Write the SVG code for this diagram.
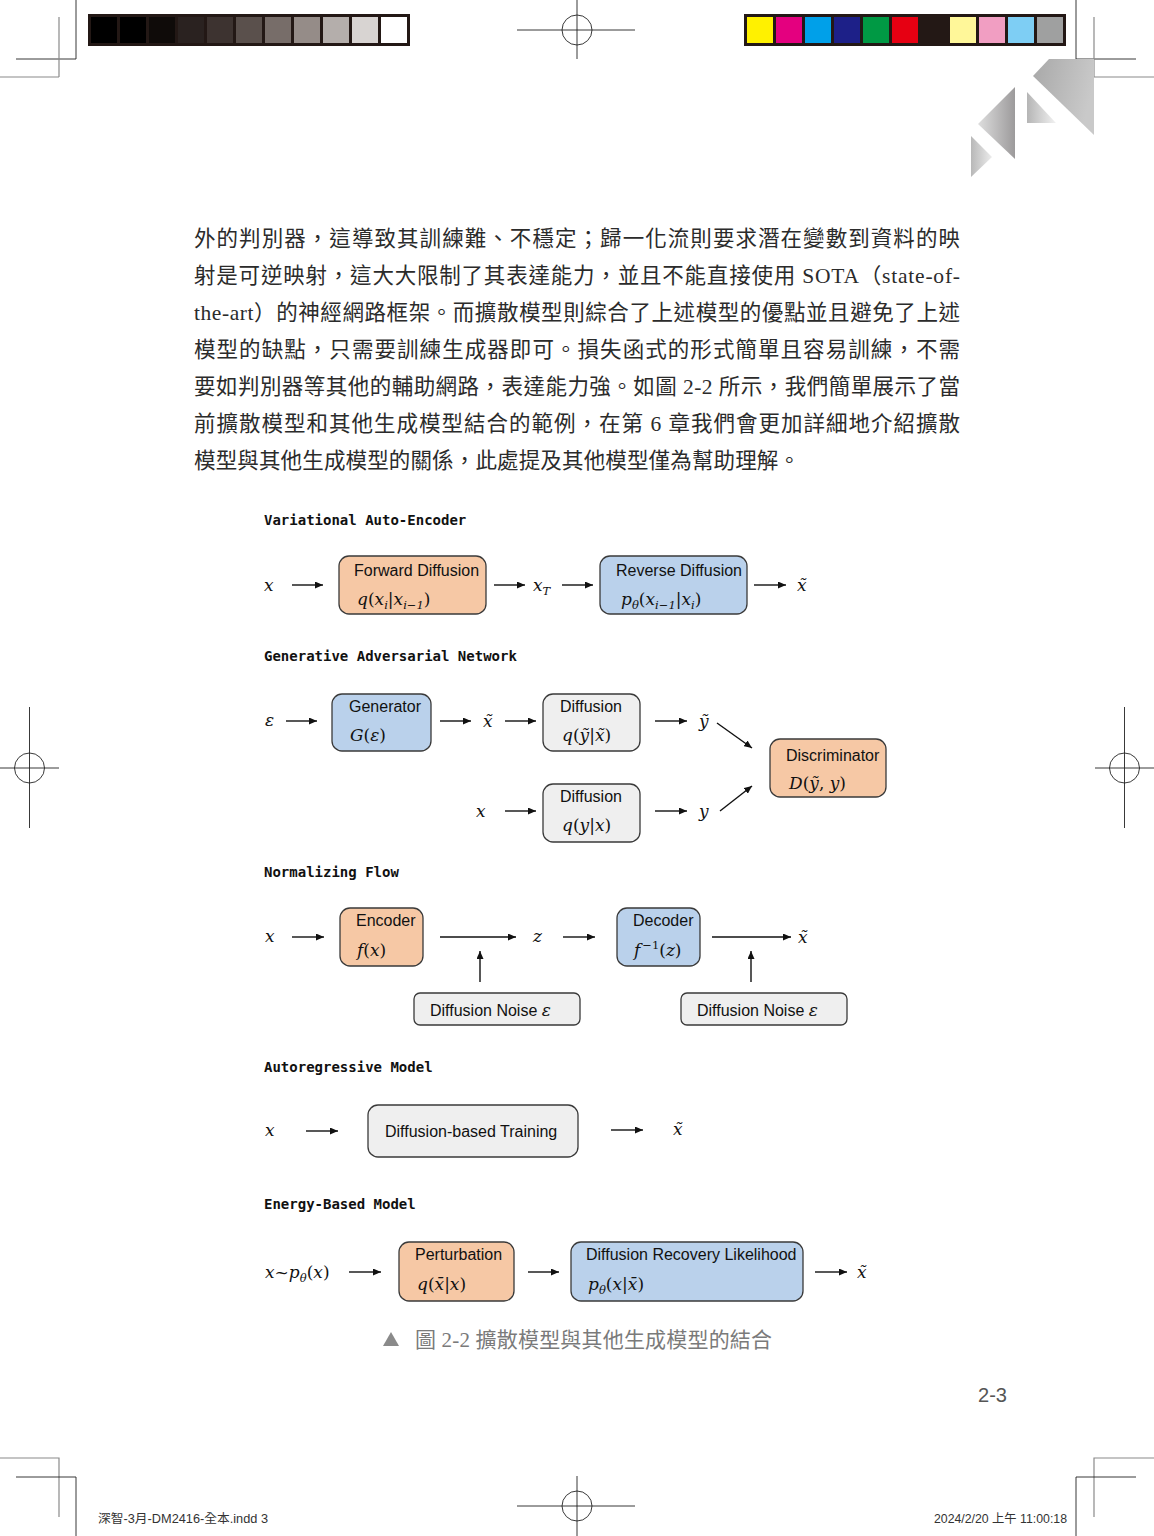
<svg xmlns="http://www.w3.org/2000/svg" width="1154" height="1536" viewBox="0 0 1154 1536">
<style>
.reg{stroke:#222;stroke-width:0.9;fill:none}
.regg{stroke:#8a8a8a;stroke-width:1.2;fill:none}
.para{font-family:"Liberation Serif","Noto Sans CJK TC",serif;font-size:21.5px;fill:#2b2b2b}
.title{font-family:"DejaVu Sans Mono","Liberation Mono",monospace;font-weight:bold;font-size:14px;fill:#111}
.lbl{font-family:"Liberation Sans",Arial,sans-serif;font-size:16px;fill:#111}
.m{font-family:"DejaVu Serif","Liberation Serif",serif;font-style:italic;font-size:17px;fill:#111}
.n{font-style:normal}
.sub{font-size:11.5px}
.box{stroke:#3a3a3a;stroke-width:1.3}
.peach{fill:#f6c8a5}
.blue{fill:#bad1eb}
.grey{fill:#efefef}
.arr{stroke:#111;stroke-width:1.4;fill:none;marker-end:url(#ah)}
.cap{font-family:"Liberation Serif","Noto Sans CJK TC",serif;font-size:21px;fill:#7a7a7a}
.foot{font-family:"Liberation Sans","Noto Sans CJK TC",sans-serif;font-size:12px;fill:#333}
</style>
<defs>
<marker id="ah" markerUnits="userSpaceOnUse" markerWidth="9" markerHeight="7" refX="8" refY="3.5" orient="auto">
<path d="M0,0 L8,3.5 L0,7 z" fill="#111"/>
</marker>
<linearGradient id="g1" x1="0" y1="0" x2="1" y2="0.3"><stop offset="0" stop-color="#a8a8a8"/><stop offset="1" stop-color="#c9c9c9"/></linearGradient>
<linearGradient id="g2" x1="0" y1="0" x2="1" y2="0"><stop offset="0" stop-color="#b5b5b5"/><stop offset="1" stop-color="#f2f2f2"/></linearGradient>
<linearGradient id="g3" x1="0" y1="0" x2="1" y2="0"><stop offset="0" stop-color="#dedede"/><stop offset="1" stop-color="#9c9a9b"/></linearGradient>
<linearGradient id="g4" x1="0" y1="0" x2="1" y2="0"><stop offset="0" stop-color="#b8b8b8"/><stop offset="1" stop-color="#ececec"/></linearGradient>
</defs>
<rect width="1154" height="1536" fill="#fff"/>

<g id="printmarks">
<path class="reg" d="M76,0 V59 M16,59 H76"/>
<path class="regg" d="M59,17 V77 M0,77 H59"/>
<path class="reg" d="M1076,0 V59 M1076,59 H1136"/>
<path class="regg" d="M1094,17 V77 M1094,77 H1154"/>
<path class="regg" d="M0,1458 H59 V1517"/>
<path class="reg" d="M16,1477 H76 V1536"/>
<path class="regg" d="M1094,1517 V1458 H1154"/>
<path class="reg" d="M1076,1536 V1477 H1136"/>
<path class="reg" d="M517,30 H635 M577,0 V59"/>
<circle class="reg" cx="577" cy="30" r="15"/>
<path class="reg" d="M517,1506 H635 M577,1476 V1536"/>
<circle class="reg" cx="577" cy="1506" r="15"/>
<path class="reg" d="M0,768 H59 M29.5,707 V828"/>
<circle class="reg" cx="29.5" cy="768" r="15"/>
<path class="reg" d="M1095,768 H1154 M1124.5,707 V828"/>
<circle class="reg" cx="1124.5" cy="768" r="15"/>
</g>

<g id="colorbars">
<rect x="88" y="14" width="322" height="32" fill="#231815"/>
<rect x="91" y="17" width="26" height="26" fill="#000"/>
<rect x="120" y="17" width="26" height="26" fill="#000"/>
<rect x="149" y="17" width="26" height="26" fill="#0f0b09"/>
<rect x="178" y="17" width="26" height="26" fill="#2a2220"/>
<rect x="207" y="17" width="26" height="26" fill="#3d3330"/>
<rect x="236" y="17" width="26" height="26" fill="#5a504c"/>
<rect x="265" y="17" width="26" height="26" fill="#776d69"/>
<rect x="294" y="17" width="26" height="26" fill="#958c88"/>
<rect x="323" y="17" width="26" height="26" fill="#b4aeab"/>
<rect x="352" y="17" width="26" height="26" fill="#d8d4d2"/>
<rect x="381" y="17" width="26" height="26" fill="#fff"/>
<rect x="744" y="14" width="322" height="32" fill="#231815"/>
<rect x="747" y="17" width="26" height="26" fill="#fff100"/>
<rect x="776" y="17" width="26" height="26" fill="#e4007f"/>
<rect x="805" y="17" width="26" height="26" fill="#00a0e9"/>
<rect x="834" y="17" width="26" height="26" fill="#1d2088"/>
<rect x="863" y="17" width="26" height="26" fill="#009944"/>
<rect x="892" y="17" width="26" height="26" fill="#e60012"/>
<rect x="921" y="17" width="26" height="26" fill="#231815"/>
<rect x="950" y="17" width="26" height="26" fill="#fff799"/>
<rect x="979" y="17" width="26" height="26" fill="#f19ec2"/>
<rect x="1008" y="17" width="26" height="26" fill="#7ecef4"/>
<rect x="1037" y="17" width="26" height="26" fill="#9fa0a0"/>
</g>

<g id="cornerdeco">
<polygon points="1049,59 1094,59 1094,135 1033,76" fill="url(#g1)"/>
<polygon points="1027,92 1027,123 1056,123" fill="url(#g2)"/>
<polygon points="1015,87 1015,159 978,124" fill="url(#g3)"/>
<polygon points="971,136 971,177 992,157" fill="url(#g4)"/>
</g>

<g id="paragraph">
<text class="para" x="194" y="246" textLength="766" lengthAdjust="spacing">外的判別器，這導致其訓練難、不穩定；歸一化流則要求潛在變數到資料的映</text>
<text class="para" x="194" y="283" textLength="766" lengthAdjust="spacing">射是可逆映射，這大大限制了其表達能力，並且不能直接使用 SOTA（state-of-</text>
<text class="para" x="194" y="320" textLength="766" lengthAdjust="spacing">the-art）的神經網路框架。而擴散模型則綜合了上述模型的優點並且避免了上述</text>
<text class="para" x="194" y="357" textLength="766" lengthAdjust="spacing">模型的缺點，只需要訓練生成器即可。損失函式的形式簡單且容易訓練，不需</text>
<text class="para" x="194" y="394" textLength="766" lengthAdjust="spacing">要如判別器等其他的輔助網路，表達能力強。如圖 2-2 所示，我們簡單展示了當</text>
<text class="para" x="194" y="431" textLength="766" lengthAdjust="spacing">前擴散模型和其他生成模型結合的範例，在第 6 章我們會更加詳細地介紹擴散</text>
<text class="para" x="194" y="468" textLength="606" lengthAdjust="spacing">模型與其他生成模型的關係，此處提及其他模型僅為幫助理解。</text>
</g>

<g id="titles">
<text class="title" x="264" y="525">Variational Auto-Encoder</text>
<text class="title" x="264" y="661">Generative Adversarial Network</text>
<text class="title" x="264" y="877">Normalizing Flow</text>
<text class="title" x="264" y="1072">Autoregressive Model</text>
<text class="title" x="264" y="1209">Energy-Based Model</text>
</g>

<g id="connectors">
<line class="arr" x1="292" y1="585" x2="323" y2="585"/>
<line class="arr" x1="494" y1="585" x2="525" y2="585"/>
<line class="arr" x1="562" y1="585" x2="593" y2="585"/>
<line class="arr" x1="754" y1="585" x2="786" y2="585"/>
<line class="arr" x1="286" y1="721" x2="317" y2="721"/>
<line class="arr" x1="440" y1="721" x2="471" y2="721"/>
<line class="arr" x1="505" y1="721" x2="536" y2="721"/>
<line class="arr" x1="655" y1="721" x2="687" y2="721"/>
<line class="arr" x1="717" y1="723" x2="752" y2="748"/>
<line class="arr" x1="505" y1="811" x2="536" y2="811"/>
<line class="arr" x1="655" y1="811" x2="687" y2="811"/>
<line class="arr" x1="720" y1="811" x2="752" y2="786"/>
<line class="arr" x1="292" y1="937" x2="324" y2="937"/>
<line class="arr" x1="440" y1="937" x2="516" y2="937"/>
<line class="arr" x1="563" y1="937" x2="595" y2="937"/>
<line class="arr" x1="712" y1="937" x2="791" y2="937"/>
<line class="arr" x1="480" y1="982" x2="480" y2="951"/>
<line class="arr" x1="751" y1="982" x2="751" y2="951"/>
<line class="arr" x1="306" y1="1131" x2="338" y2="1131"/>
<line class="arr" x1="611" y1="1130" x2="643" y2="1130"/>
<line class="arr" x1="349" y1="1272" x2="381" y2="1272"/>
<line class="arr" x1="528" y1="1272" x2="559" y2="1272"/>
<line class="arr" x1="815" y1="1272" x2="847" y2="1272"/>
</g>

<g id="vae-x"><text class="m" x="264" y="591">x</text></g>
<g id="vae-forward">
<rect class="box peach" x="339" y="556" width="147" height="58" rx="10"/>
<text class="lbl" x="354" y="576">Forward Diffusion</text>
<text class="m" x="357" y="605">q<tspan class="n">(</tspan>x<tspan class="sub" dy="4">i</tspan><tspan class="n" dy="-4">|</tspan>x<tspan class="sub" dy="4">i−1</tspan><tspan class="n" dy="-4">)</tspan></text>
</g>
<g id="vae-xT"><text class="m" x="533" y="591">x<tspan class="sub" dy="4">T</tspan></text></g>
<g id="vae-reverse">
<rect class="box blue" x="600" y="556" width="147" height="58" rx="10"/>
<text class="lbl" x="616" y="576">Reverse Diffusion</text>
<text class="m" x="621" y="605">p<tspan class="sub" dy="4">θ</tspan><tspan class="n" dy="-4">(</tspan>x<tspan class="sub" dy="4">i−1</tspan><tspan class="n" dy="-4">|</tspan>x<tspan class="sub" dy="4">i</tspan><tspan class="n" dy="-4">)</tspan></text>
</g>
<g id="vae-out"><text class="m" x="797" y="591">x̃</text></g>

<g id="gan-eps"><text class="m" x="265" y="726">ε</text></g>
<g id="gan-generator">
<rect class="box blue" x="332" y="694" width="99" height="57" rx="10"/>
<text class="lbl" x="349" y="712">Generator</text>
<text class="m" x="350" y="741">G<tspan class="n">(</tspan>ε<tspan class="n">)</tspan></text>
</g>
<g id="gan-xt"><text class="m" x="483" y="727">x̃</text></g>
<g id="gan-diff1">
<rect class="box grey" x="543" y="694" width="97" height="57" rx="10"/>
<text class="lbl" x="560" y="712">Diffusion</text>
<text class="m" x="562" y="741">q<tspan class="n">(</tspan>ỹ<tspan class="n">|</tspan>x̃<tspan class="n">)</tspan></text>
</g>
<g id="gan-yt"><text class="m" x="699" y="727">ỹ</text></g>
<g id="gan-x"><text class="m" x="476" y="817">x</text></g>
<g id="gan-diff2">
<rect class="box grey" x="543" y="784" width="97" height="58" rx="10"/>
<text class="lbl" x="560" y="802">Diffusion</text>
<text class="m" x="562" y="831">q<tspan class="n">(</tspan>y<tspan class="n">|</tspan>x<tspan class="n">)</tspan></text>
</g>
<g id="gan-y"><text class="m" x="699" y="817">y</text></g>
<g id="gan-disc">
<rect class="box peach" x="770" y="739" width="116" height="58" rx="10"/>
<text class="lbl" x="786" y="761">Discriminator</text>
<text class="m" x="789" y="789">D<tspan class="n">(</tspan>ỹ<tspan class="n">,</tspan> y<tspan class="n">)</tspan></text>
</g>

<g id="nf-x"><text class="m" x="265" y="942">x</text></g>
<g id="nf-encoder">
<rect class="box peach" x="340" y="908" width="83" height="58" rx="10"/>
<text class="lbl" x="356" y="926">Encoder</text>
<text class="m" x="357" y="956">f<tspan class="n">(</tspan>x<tspan class="n">)</tspan></text>
</g>
<g id="nf-z"><text class="m" x="533" y="942">z</text></g>
<g id="nf-decoder">
<rect class="box blue" x="617" y="908" width="83" height="58" rx="10"/>
<text class="lbl" x="633" y="926">Decoder</text>
<text class="m" x="634" y="956">f<tspan class="sub n" dx="2" dy="-7">−1</tspan><tspan class="n" dy="7">(</tspan>z<tspan class="n">)</tspan></text>
</g>
<g id="nf-out"><text class="m" x="798" y="943">x̃</text></g>
<g id="nf-noise1">
<rect class="box grey" x="414" y="993" width="166" height="32" rx="6"/>
<text class="lbl" x="430" y="1016">Diffusion Noise <tspan class="m">ε</tspan></text>
</g>
<g id="nf-noise2">
<rect class="box grey" x="681" y="993" width="166" height="32" rx="6"/>
<text class="lbl" x="697" y="1016">Diffusion Noise <tspan class="m">ε</tspan></text>
</g>

<g id="ar-x"><text class="m" x="265" y="1136">x</text></g>
<g id="ar-train">
<rect class="box grey" x="368" y="1105" width="210" height="52" rx="10"/>
<text class="lbl" x="385" y="1137">Diffusion-based Training</text>
</g>
<g id="ar-out"><text class="m" x="673" y="1135">x̃</text></g>

<g id="ebm-x"><text class="m" x="265" y="1278">x<tspan class="n">~</tspan>p<tspan class="sub" dy="4">θ</tspan><tspan class="n" dy="-4">(</tspan>x<tspan class="n">)</tspan></text></g>
<g id="ebm-perturb">
<rect class="box peach" x="399" y="1242" width="115" height="59" rx="10"/>
<text class="lbl" x="415" y="1260">Perturbation</text>
<text class="m" x="417" y="1290">q<tspan class="n">(</tspan>x̄<tspan class="n">|</tspan>x<tspan class="n">)</tspan></text>
</g>
<g id="ebm-recovery">
<rect class="box blue" x="571" y="1242" width="232" height="59" rx="10"/>
<text class="lbl" x="586" y="1260">Diffusion Recovery Likelihood</text>
<text class="m" x="588" y="1290">p<tspan class="sub" dy="4">θ</tspan><tspan class="n" dy="-4">(</tspan>x<tspan class="n">|</tspan>x̄<tspan class="n">)</tspan></text>
</g>
<g id="ebm-out"><text class="m" x="857" y="1278">x̃</text></g>

<g id="caption">
<polygon points="383,1346 391,1332 399,1346" fill="#8a8a8a"/>
<text class="cap" x="415" y="1347" textLength="357" lengthAdjust="spacing">圖 2-2  擴散模型與其他生成模型的結合</text>
</g>
<text x="978" y="1402" font-family="Liberation Sans Narrow,Liberation Sans,sans-serif" font-size="20" fill="#555" textLength="29" lengthAdjust="spacingAndGlyphs">2-3</text>
<text class="foot" x="98" y="1523" textLength="170" lengthAdjust="spacingAndGlyphs">深智-3月-DM2416-全本.indd   3</text>
<text class="foot" x="934" y="1523" textLength="133" lengthAdjust="spacingAndGlyphs">2024/2/20   上午 11:00:18</text>
</svg>
